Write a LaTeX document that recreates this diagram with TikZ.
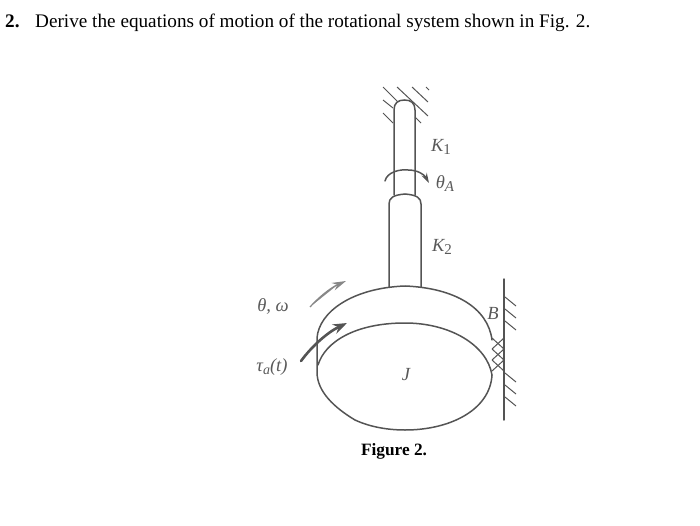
\documentclass[tikz,border=0pt]{standalone}
\usepackage{fontspec}
\setmainfont{Liberation Serif}
\usetikzlibrary{arrows.meta}
\definecolor{ink}{gray}{0.33}
\definecolor{lab}{gray}{0.35}
\tikzset{
 sk/.style={draw=ink,line width=1.5pt,line cap=round},
 hatch/.style={draw=ink,line width=1pt},
 lbl/.style={text=lab,font=\fontsize{18.5}{20}\selectfont\itshape,inner sep=0pt},
 ttl/.style={font=\fontsize{19.2}{22}\selectfont,text=black,inner sep=0pt,anchor=base west}
}
\begin{document}
\begin{tikzpicture}[x=1pt,y=-1pt]
\useasboundingbox (0,0) rectangle (700,526);
\node[ttl] (num) at (5,27.5) {\textbf{2.}};
\node[ttl] (head) at (35,27.5) {Derive the equations of motion of the rotational system shown in Fig. 2.};
% shafts
\draw[sk] (394,195) -- (394,110) .. controls (394,103) and (398,100) .. (404.5,100) .. controls (411,100) and (415,103) .. (415,110) -- (415,195);
\draw[sk] (389,287) -- (389,204) .. controls (389,198) and (393,195) .. (405,194) .. controls (417,195) and (421,198) .. (421,204) -- (421,287);
% ceiling hatch
\foreach \a/\b/\c/\d in {383/87/398/102,397/87/428/116,412/87/428/102,426/87/429/90,383/100/393/108,383/113/393/123,415/117/421/123}
  \draw[hatch] (\a,\b) -- (\c,\d);
% collar arrow
\draw[sk,-{Stealth[length=10pt,width=6pt]}] (385,181) .. controls (387,172) and (400,169) .. (408,170) .. controls (417,170) and (424,174) .. (429,183);
% disk
\draw[sk] (355,420) .. controls (335,408) and (317,392) .. (317,372) -- (317,338) .. controls (319,312) and (352,288) .. (405,286) .. controls (455,288) and (488,308) .. (492,340);
\draw[sk] (318,365) .. controls (325,342) and (355,323) .. (405,323) .. controls (450,323) and (487,345) .. (492,375);
\draw[sk] (355,420) .. controls (370,427) and (388,430) .. (405,430) .. controls (450,430) and (490,410) .. (492,375);
% wall
\draw[sk] (504,279) -- (504,420);
\foreach \y in {297,309,321,373,385,397}
  \draw[hatch] (505,\y) -- (516,\y+9);
% damper
\foreach \y in {338,349,360}{
  \draw[hatch] (492,\y) -- (504,\y+11);
  \draw[hatch] (492,\y+11) -- (504,\y);
}
% arrows
\draw[draw=ink!70,fill=ink!70,line width=1.2pt,-{Stealth[length=14pt,width=8pt]}] (310,307) .. controls (318,298) and (330,288) .. (346,281);
\draw[draw=ink,line width=2.6pt,line cap=round,-{Stealth[length=14pt,width=10pt]}] (301,361) .. controls (312,346) and (328,332) .. (347,323);
% labels
\node[lbl] (thw) at (273,306) {θ, ω};
\node[lbl] (tau) at (272,367) {τ\raisebox{-3pt}{\fontsize{14}{14}\selectfont a}(t)};
\node[lbl] (jj) at (406,375) {J};
\node[lbl] (bb) at (493,313) {B};
\node[lbl] (k1) at (441,147) {K\raisebox{-3pt}{\fontsize{15}{15}\selectfont\upshape 1}};
\node[lbl] (tha) at (445,184) {θ\raisebox{-3pt}{\fontsize{15}{15}\selectfont A}};
\node[lbl] (k2) at (442,247) {K\raisebox{-3pt}{\fontsize{15}{15}\selectfont\upshape 2}};
\node[font=\fontsize{17.3}{20}\selectfont\bfseries,inner sep=0pt] (cap) at (394,451) {Figure 2.};
\end{tikzpicture}
\end{document}
